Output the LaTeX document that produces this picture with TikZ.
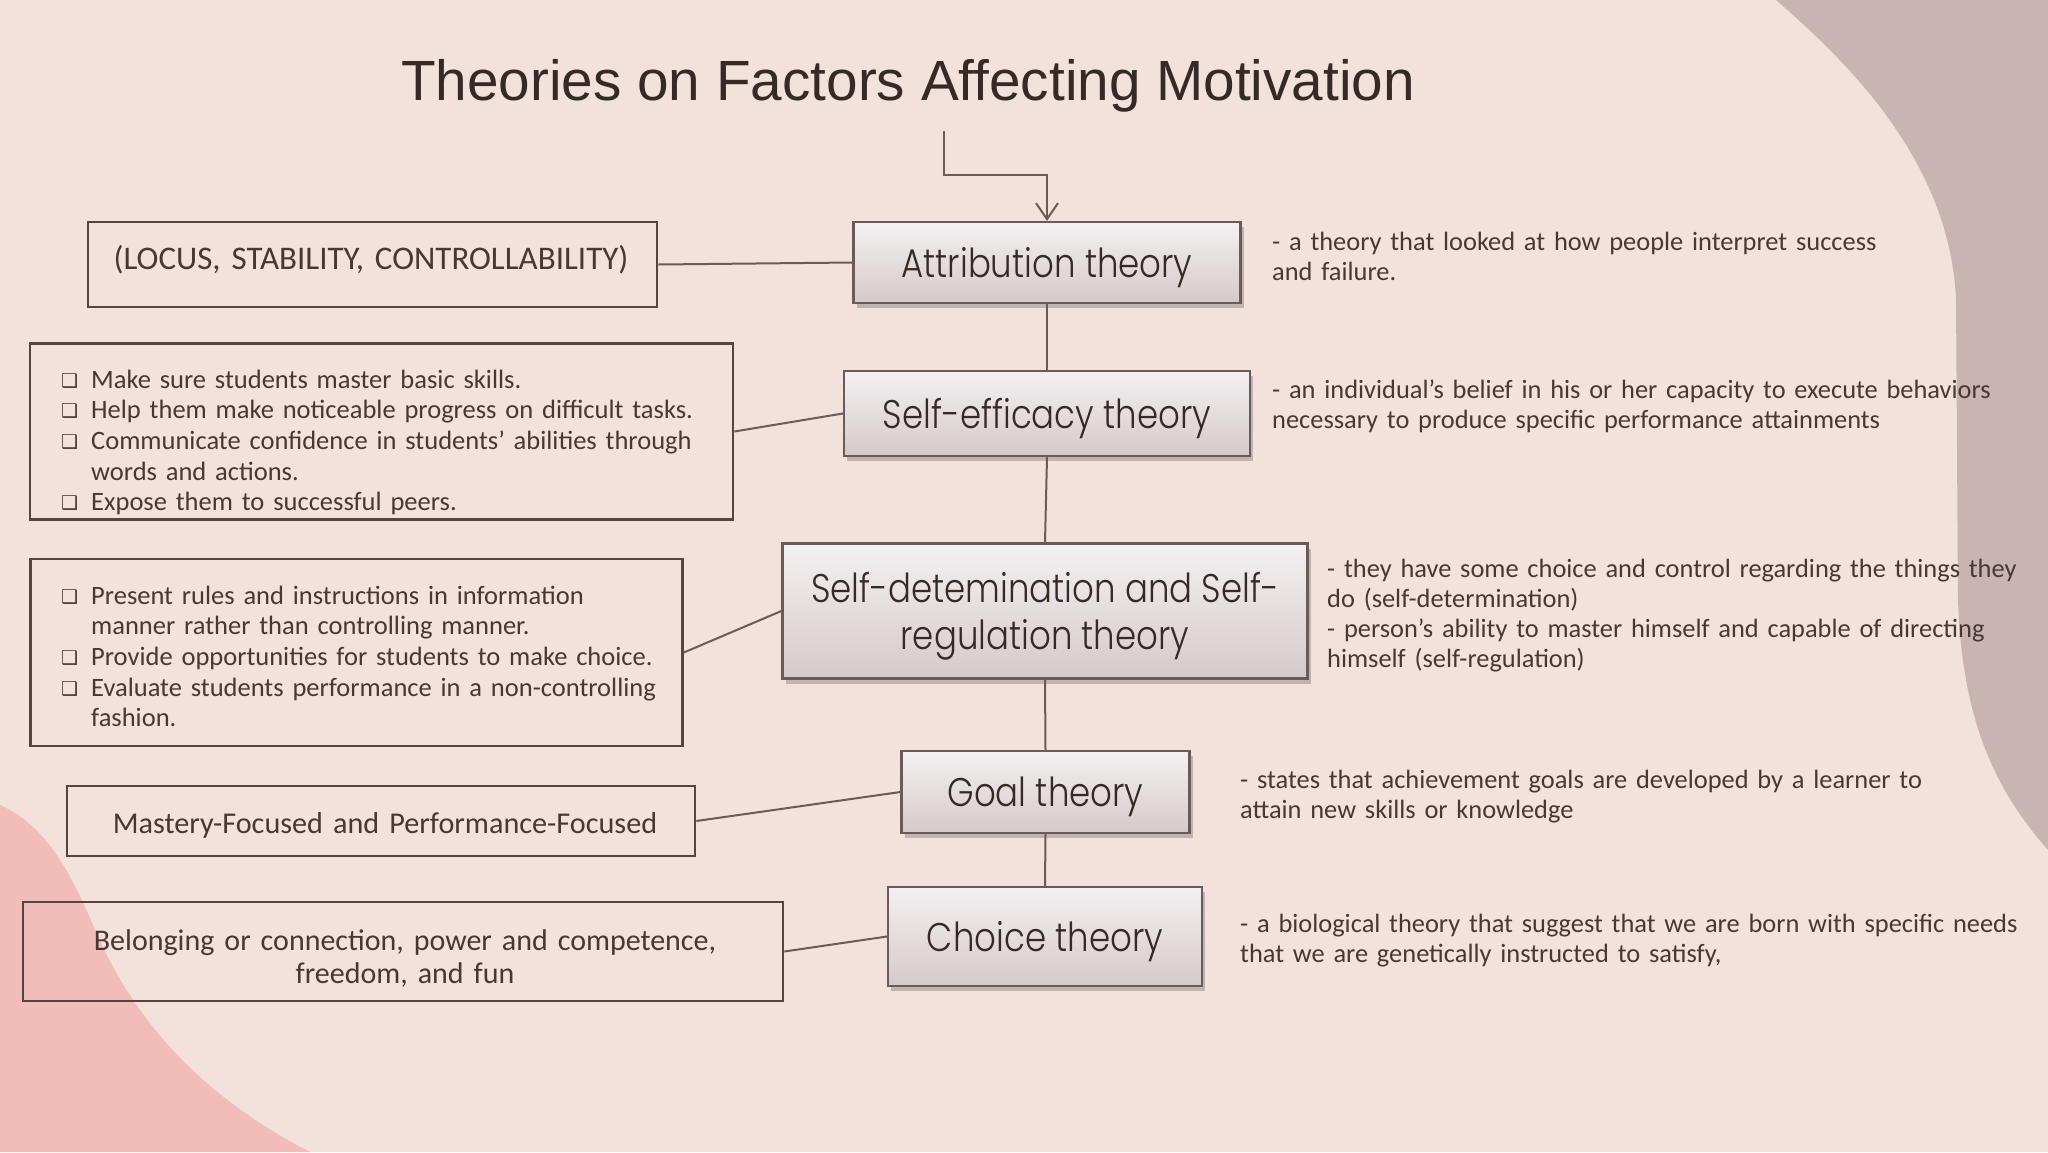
\documentclass[tikz,border=0pt]{standalone}
\usepackage{fontspec}
\setmainfont{Carlito}
\newfontfamily\titlefont{Liberation Sans}
\newfontfamily\thyfont{Poppins Light}[FakeStretch=0.85]
\newfontfamily\dingfont{DejaVu Sans}
\usetikzlibrary{arrows.meta,shadows}

\definecolor{bgpink}{HTML}{F2E2DB}
\definecolor{mauve}{HTML}{C9B4B2}
\definecolor{rosy}{HTML}{F2BDB9}
\definecolor{inkbrown}{HTML}{4A3632}
\definecolor{titleink}{HTML}{362A27}
\definecolor{framebrown}{HTML}{57433F}
\definecolor{thyline}{HTML}{6B5B58}
\definecolor{thytop}{HTML}{F4F0F1}
\definecolor{thybot}{HTML}{D5CACA}

\newcommand{\sqbox}{\makebox[30pt][l]{\raisebox{1pt}{\dingfont\fontsize{19}{19}\selectfont ❑}}}
\newcommand{\sqgap}{\hspace*{30pt}}

\begin{document}
\begin{tikzpicture}[x=1pt,y=1pt,yscale=-1,xscale=1,
    thy/.style={draw=thyline, line width=2.2pt, top color=thytop, bottom color=thybot,
      inner sep=0pt, align=center, text=titleink, text depth=0pt, font=\thyfont\fontsize{40}{47}\selectfont,
      drop shadow={shadow xshift=3pt, shadow yshift=-5pt, fill=black!70, opacity=0.3}},
    side/.style={draw=framebrown, line width=2.6pt, inner sep=0pt},
    link/.style={draw=thyline, line width=2pt},
    desc/.style={anchor=base west, inner sep=0pt, align=left, text width=900, text=inkbrown,
      font=\fontsize{26.4}{30}\selectfont},
    bullets/.style={anchor=base west, inner sep=0pt, align=left, text width=700, text=inkbrown,
      font=\fontsize{26.5}{30.7}\selectfont},
    plain/.style={anchor=base, inner sep=0pt, align=center, text width=700, text=inkbrown}]

    \useasboundingbox (0,0) rectangle (2048,1152);
    %Background
    \fill[bgpink] (0,0) rectangle (2048,1152);
    %Shape: Polygon Curved [right blob]
    \fill[mauve] (1776,0) .. controls (1845,60) and (1950,160) .. (1956,300) -- (1958,600) .. controls (1962,720) and (1995,790) .. (2048,850) -- (2048,0) -- cycle;
    %Shape: Polygon Curved [left blob]
    \fill[rosy] (0,805) .. controls (45,825) and (70,870) .. (95,930) .. controls (130,1010) and (190,1090) .. (310,1152) -- (0,1152) -- cycle;

    % Title
    \node[anchor=base, inner sep=0pt, text=titleink, font=\titlefont\fontsize{56.7}{60}\selectfont] (title) at (908,100) {Theories on Factors Affecting Motivation};

    %Theory boxes
    \node[thy, minimum width=387, minimum height=81] (attr) at (1047,262.5) {Attribution theory};
    \node[thy, minimum width=406, minimum height=85] (eff) at (1047,413.5) {Self-efficacy theory};
    \node[thy, minimum width=525, minimum height=135] (sdr) at (1045,611) {Self-detemination and Self-\\regulation theory};
    \node[thy, minimum width=288, minimum height=82] (goal) at (1045.5,792) {Goal theory};
    \node[thy, minimum width=314, minimum height=99] (choice) at (1045,936.5) {Choice theory};

    %Arrow into the first box
    \coordinate (start) at (944,131);
    \draw[link, -{Straight Barb[length=16pt,width=22pt]}] (start) -- ++(0,44) -| (attr.north);

    %Vertical links
    \draw[link] (attr.south) -- (eff.north);
    \draw[link] (eff.south) -- (sdr.north);
    \draw[link] (sdr.south) -- (goal.north);
    \draw[link] (goal.south) -- (choice.north);

    %Left boxes
    \node[side, minimum width=569, minimum height=85] (locus) at (372.5,264.5) {};
    \node[side, minimum width=703, minimum height=176] (effbox) at (381.5,431.5) {};
    \node[side, minimum width=652, minimum height=187] (sdrbox) at (356.5,652.5) {};
    \node[side, minimum width=628, minimum height=70] (goalbox) at (381,821) {};
    \node[side, minimum width=760, minimum height=99] (choicebox) at (403,951.5) {};

    % Text Node
    \node[plain, font=\fontsize{33}{36}\selectfont] (locustxt) at (371,269) {(LOCUS, STABILITY, CONTROLLABILITY)};
    % Text Node
    \node[bullets] (efftxt) at (61,388) {\sqbox Make sure students master basic skills.\\
      \sqbox Help them make noticeable progress on difficult tasks.\\
      \sqbox Communicate confidence in students’ abilities through\\
      \sqgap words and actions.\\
      \sqbox Expose them to successful peers.};
    % Text Node
    \node[bullets] (sdrtxt) at (61,604) {\sqbox Present rules and instructions in information\\
      \sqgap manner rather than controlling manner.\\
      \sqbox Provide opportunities for students to make choice.\\
      \sqbox Evaluate students performance in a non-controlling\\
      \sqgap fashion.};
    % Text Node
    \node[plain, font=\fontsize{30.2}{33}\selectfont] (goaltxt) at (385,833) {Mastery-Focused and Performance-Focused};
    % Text Node
    \node[plain, font=\fontsize{30}{33}\selectfont] (choicetxt) at (405,950) {Belonging or connection, power and competence,\\freedom, and fun};

    %Side links
    \draw[link] (locus.east) -- (attr.west);
    \draw[link] (effbox.east) -- (eff.west);
    \draw[link] (sdrbox.east) -- (sdr.west);
    \draw[link] (goalbox.east) -- (goal.west);
    \draw[link] (choicebox.east) -- (choice.west);

    % Text Node
    \node[desc] (attrdesc) at (1272,250) {- a theory that looked at how people interpret success\\and failure.};
    % Text Node
    \node[desc] (effdesc) at (1272,398) {- an individual's belief in his or her capacity to execute behaviors\\necessary to produce specific performance attainments};
    % Text Node
    \node[desc] (sdrdesc) at (1327,577) {- they have some choice and control regarding the things they\\do (self-determination)\\- person’s ability to master himself and capable of directing\\himself (self-regulation)};
    % Text Node
    \node[desc] (goaldesc) at (1240,788) {- states that achievement goals are developed by a learner to\\attain new skills or knowledge};
    % Text Node
    \node[desc] (choicedesc) at (1240,932) {- a biological theory that suggest that we are born with specific needs\\that we are genetically instructed to satisfy,};

\end{tikzpicture}
\end{document}
